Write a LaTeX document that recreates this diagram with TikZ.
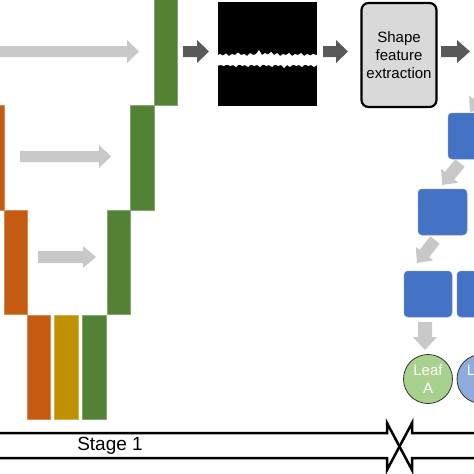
\documentclass[tikz,border=0pt]{standalone}
\usepackage{fontspec}
\setmainfont{Liberation Sans}
\definecolor{barorange}{HTML}{C55A11}
\definecolor{baryellow}{HTML}{BF9000}
\definecolor{bargreen}{HTML}{548235}
\definecolor{treeblue}{HTML}{4472C4}
\definecolor{leafgreen}{HTML}{A9D18E}
\definecolor{leafblue}{HTML}{8FAADC}
\definecolor{lightarr}{HTML}{C8C8C8}
\definecolor{darkarr}{HTML}{595959}
\definecolor{boxgray}{HTML}{D9D9D9}
\newcommand{\blkarrow}[8]{%
  \fill[#1, shift={(#2,#3)}, rotate=#4] (0,-#6) -- ({#5-#8},-#6) -- ({#5-#8},-#7) -- (#5,0) -- ({#5-#8},#7) -- ({#5-#8},#6) -- (0,#6) -- cycle;}
\tikzset{
  obar/.style={fill=barorange, draw=barorange!70!white, line width=0.5pt},
  ybar/.style={fill=baryellow, draw=baryellow!70!white, line width=0.5pt},
  gbar/.style={fill=bargreen, draw=bargreen!70!white, line width=0.5pt},
  treebox/.style={fill=treeblue, draw=treeblue!80!white, line width=0.5pt, rounded corners=4pt},
  leaf/.style={circle, draw=black!80, line width=0.8pt, minimum size=49pt, inner sep=0pt, text=white, align=center, font=\fontsize{15}{18}\selectfont},
  stageline/.style={line width=2.5pt, line join=miter},
}
\begin{document}
\begin{tikzpicture}[x=1pt,y=-1pt]
\useasboundingbox (0,0) rectangle (474,474);
\clip (0,0) rectangle (474,474);
% bars
\fill[obar] (-20,105) rectangle (4,210);
\fill[obar] (4,210) rectangle (27,314);
\fill[obar] (27,315) rectangle (50,419);
\fill[ybar] (54,315) rectangle (78,419);
\fill[gbar] (82,315) rectangle (106,419);
\fill[gbar] (107,210) rectangle (130,314);
\fill[gbar] (130,105) rectangle (154,210);
\fill[gbar] (154,-2) rectangle (177,105);
\draw[gbar] (82,315) rectangle (106,419);
\draw[gbar] (107,210) rectangle (130,314);
\draw[gbar] (130,105) rectangle (154,210);
\draw[gbar] (154,-2) rectangle (177,105);
% light arrows (skip connections)
\blkarrow{lightarr}{-2}{51.5}{0}{141}{5.5}{11.5}{12}
\blkarrow{lightarr}{20}{156.5}{0}{91}{5.5}{11.5}{12}
\blkarrow{lightarr}{38}{257}{0}{58}{6}{11}{13}
% dark arrows
\blkarrow{darkarr}{183}{51.5}{0}{26}{5.5}{11.5}{12}
\blkarrow{darkarr}{323}{51.5}{0}{25}{5.5}{11.5}{12}
\blkarrow{darkarr}{441}{51.5}{0}{29}{5.5}{11.5}{13}
% segmentation image
\node[fill=black, minimum width=99pt, minimum height=104pt, inner sep=0pt, anchor=north west] (seg) at (218,2) {};
\fill[white] (216,56) -- (220,54) -- (223,55.5) -- (226,53.5) -- (229,56) -- (232,54) -- (235,55) -- (238,52.5) -- (241,55) -- (244,54) -- (247,56) -- (250,53) -- (253,55) -- (256,54) -- (259,50) -- (262,55) -- (265,53) -- (268,54.5) -- (271,52) -- (274,55) -- (277,53) -- (280,56) -- (283,54) -- (286,55) -- (289,53) -- (292,56) -- (295,54) -- (298,55) -- (301,53) -- (304,56) -- (307,54) -- (310,55.5) -- (313,54) -- (317,55) -- (317,65) -- (314,67) -- (311,65) -- (308,66) -- (305,64) -- (302,67) -- (299,65) -- (296,66) -- (293,64) -- (290,67) -- (287,65) -- (284,68) -- (281,65) -- (278,66) -- (275,64) -- (272,67) -- (269,65) -- (266,66) -- (263,64) -- (260,67) -- (257,65) -- (254,66) -- (251,64) -- (248,67) -- (245,65) -- (242,66) -- (239,64) -- (236,67) -- (233,65) -- (230,66) -- (227,64) -- (224,66) -- (221,65) -- (216,66) -- cycle;
\fill[white] (216,55.5) rectangle (317,65);
% shape feature extraction box
\node[draw=black, line width=2.2pt, fill=boxgray, rounded corners=7pt, minimum width=75pt, minimum height=104pt, inner sep=0pt, align=center, font=\fontsize{15}{18}\selectfont] (sfe) at (399,55) {Shape\\feature\\extraction};
% tree
\blkarrow{lightarr}{488}{90}{-129.3}{28.4}{6}{11}{12}
\node[treebox, minimum width=48pt, minimum height=46pt, inner sep=0pt] (n1) at (472,136) {};
\blkarrow{lightarr}{460}{163}{-129.3}{28.4}{6}{11}{12}
\node[treebox, minimum width=49pt, minimum height=46pt, inner sep=0pt] (n2) at (442.5,212) {};
\blkarrow{lightarr}{435}{240}{-128}{29.2}{6}{11}{12}
\node[treebox, minimum width=48pt, minimum height=46pt, inner sep=0pt] (n3) at (428,294) {};
\node[treebox, minimum width=48pt, minimum height=46pt, inner sep=0pt] (n4) at (481,294) {};
\blkarrow{lightarr}{425}{322}{-90}{28}{7}{12}{13}
\node[leaf, fill=leafgreen] (la) at (428,379) {Leaf\\A};
\node[leaf, fill=leafblue] (lb) at (481.5,379) {Leaf\\B};
% stage bar
\draw[stageline] (-5,433) -- (387,433) -- (387,423) -- (412,470) -- (412,458) -- (480,458);
\draw[stageline] (-5,458) -- (387,458) -- (387,470) -- (412,423) -- (412,433) -- (480,433);
\node[font=\fontsize{19}{22}\selectfont] (stage) at (110,446) {Stage 1};
\end{tikzpicture}
\end{document}
